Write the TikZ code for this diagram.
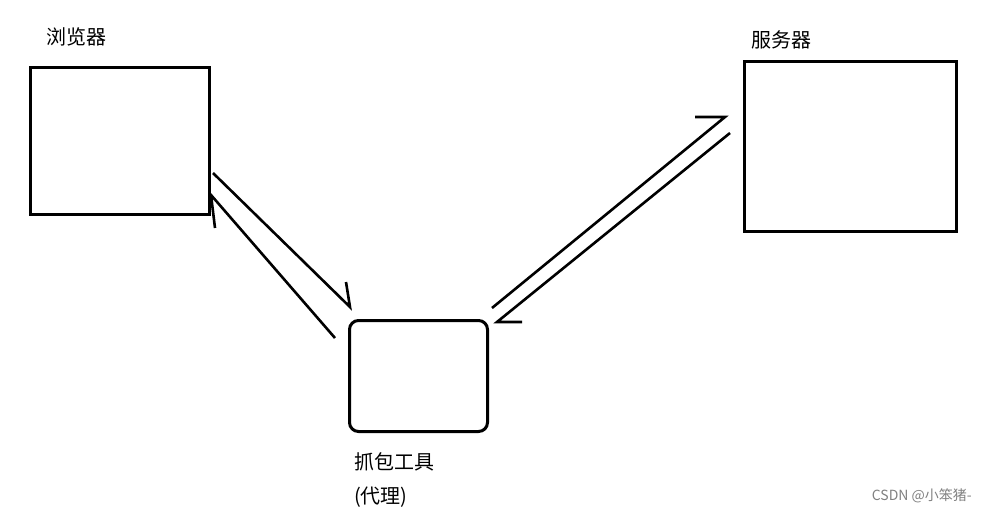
\documentclass[tikz,border=0pt]{standalone}
\usepackage{fontspec}
\setmainfont{Noto Sans CJK SC}
\begin{document}
\begin{tikzpicture}[x=1pt,y=-1pt,
  box/.style={draw,line width=3pt},
  ln/.style={line width=2.6pt},
  lab/.style={font=\fontsize{20}{24}\selectfont,anchor=west,inner sep=0}]
\useasboundingbox (0,0) rectangle (987,514);
\node[box,minimum width=179pt,minimum height=147pt,anchor=north west] (b) at (29,66) {};
\node[box,minimum width=212pt,minimum height=170pt,anchor=north west] (s) at (743,60) {};
\node[box,rounded corners=9pt,minimum width=138pt,minimum height=111pt,anchor=north west] (p) at (348,319) {};
\node[lab] (lb) at (46,37) {浏览器};
\node[lab] (ls) at (751,40) {服务器};
\node[lab] (lp) at (354,462) {抓包工具};
\node[lab] (lp2) at (354,497) {(代理)};
\node[anchor=east,inner sep=0,text=gray,font=\fontsize{14}{16}\selectfont] (w) at (972,496) {CSDN @小笨猪-};
\coordinate (a1) at (213,173); \coordinate (a2) at (350,307);
\coordinate (b1) at (335,338); \coordinate (b2) at (211,195);
\coordinate (c1) at (492,308); \coordinate (c2) at (725,117);
\coordinate (d1) at (730,133); \coordinate (d2) at (497,322);
\draw[ln] (a1) -- (a2) -- (346,282);
\draw[ln] (b1) -- (b2) -- (215,228);
\draw[ln] (c1) -- (c2) -- (695,117);
\draw[ln] (d1) -- (d2) -- (522,322);
\end{tikzpicture}
\end{document}
